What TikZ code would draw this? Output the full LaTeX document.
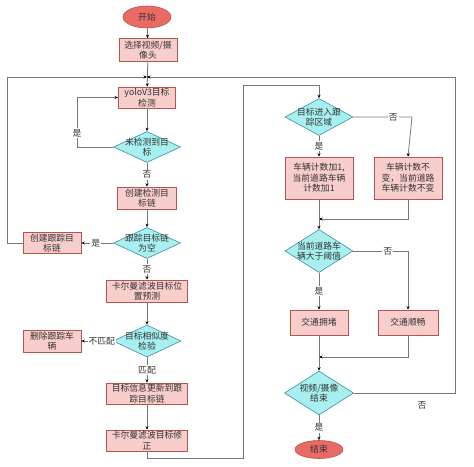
\documentclass[tikz,border=0pt]{standalone}
\usepackage{fontspec}
\setmainfont{Noto Sans CJK SC}
\usetikzlibrary{shapes.geometric,arrows.meta}
\definecolor{boxfill}{HTML}{F8CECC}
\definecolor{boxline}{HTML}{B85450}
\definecolor{dfill}{HTML}{A8F0F0}
\definecolor{dline}{HTML}{3E8E9E}
\definecolor{efill}{HTML}{EA6B66}
\definecolor{lncol}{HTML}{777777}
\begin{document}
\begin{tikzpicture}[x=1pt,y=-1pt,
  every node/.style={font=\fontsize{8.8}{10.6}\selectfont, text=black!80},
  box/.style={draw=boxline, fill=boxfill, line width=0.6pt, inner sep=0pt, align=center},
  dia/.style={diamond, draw=dline, fill=dfill, line width=0.6pt, inner sep=0pt},
  dtext/.style={align=center, inner sep=0pt},
  term/.style={ellipse, draw=boxline, fill=efill, line width=0.6pt, inner sep=0pt},
  ln/.style={draw=lncol, line width=0.8pt},
  arr/.style={ln, -{Stealth[length=3.5pt,width=3pt,black]}},
  lab/.style={fill=white, inner sep=1pt}
]
\useasboundingbox (0,0) rectangle (474,466);
% left column
\node[term, minimum width=48, minimum height=22] (start) at (147,17) {开始};
\node[box, minimum width=58, minimum height=23] (sel) at (148,50) {选择视频/摄\\像头};
\node[box, minimum width=57, minimum height=21] (yolo) at (147,97.5) {yoloV3目标\\检测};
\node[dia, minimum width=67, minimum height=31, label={[dtext]center:{未检测到目\\标}}] (d1) at (147,147) {};
\node[box, minimum width=59, minimum height=22] (det) at (147,198) {创建检测目\\标链};
\node[dia, minimum width=67, minimum height=31, label={[dtext]center:{跟踪目标链\\为空}}] (d2) at (147,243) {};
\node[box, minimum width=58, minimum height=21] (trk) at (52,243) {创建跟踪目\\标链};
\node[box, minimum width=81, minimum height=22] (kal1) at (147,291) {卡尔曼滤波目标位\\置预测};
\node[dia, minimum width=68, minimum height=32, label={[dtext]center:{目标相似度\\检验}}] (d3) at (147,341) {};
\node[box, minimum width=58, minimum height=22] (del) at (52,341) {删除跟踪车\\辆};
\node[box, minimum width=81, minimum height=21] (upd) at (147,393.5) {目标信息更新到跟\\踪目标链};
\node[box, minimum width=81, minimum height=21] (kal2) at (147,440.5) {卡尔曼滤波目标修\\正};
% right column
\node[dia, minimum width=68, minimum height=37, label={[dtext]center:{目标进入跟\\踪区域}}] (d4) at (319,117) {};
\node[box, minimum width=68, minimum height=42] (c1) at (319,178) {车辆计数加1,\\当前道路车辆\\计数加1};
\node[box, minimum width=68, minimum height=42] (c2) at (408,178) {车辆计数不\\变，当前道路\\车辆计数不变};
\node[dia, minimum width=68, minimum height=43, label={[dtext]center:{当前道路车\\辆大于阈值}}] (d5) at (319,251) {};
\node[box, minimum width=58, minimum height=25] (jam) at (319,322.5) {交通拥堵};
\node[box, minimum width=60, minimum height=25] (smo) at (408,322.5) {交通顺畅};
\node[dia, minimum width=69, minimum height=44, label={[dtext]center:{视频/摄像\\结束}}] (d6) at (319,393) {};
\node[term, minimum width=48, minimum height=18] (end) at (319,449.5) {结束};
% junction coordinates
\coordinate (j) at (147,77);
\coordinate (jl) at (7,77);
\coordinate (jr) at (455,77);
\coordinate (m1) at (319,219);
\coordinate (m2) at (319,357);
\coordinate (k1) at (147,458);
\coordinate (k2) at (243,458);
\coordinate (k3) at (243,85);
\coordinate (k4) at (319,85);
% connectors left
\draw[arr] (start) -- (sel);
\draw[arr] (sel) -- (yolo);
\draw[arr] (yolo) -- (d1);
\draw[arr] (d1.west) -- (77,147) |- (yolo.west);
\node[lab] (l1) at (77,133) {是};
\draw[arr] (d1) -- node[lab] (l2) {否} (det);
\draw[arr] (det) -- (d2);
\draw[arr] (d2.west) -- node[lab, pos=0.55] (l3) {是} (trk.east);
\draw[arr] (trk.west) -- (7,243) -- (jl) -- (j);
\draw[arr] (d2) -- node[lab] (l4) {否} (kal1);
\draw[arr] (kal1) -- (d3);
\draw[arr] (d3.west) -- node[lab, pos=0.35] (l5) {不匹配} (del.east);
\draw[arr] (d3) -- node[lab] (l6) {匹配} (upd);
\draw[arr] (upd) -- (kal2);
\draw[arr] (kal2.south) -- (k1) -- (k2) -- (k3) -- (k4) -- (d4.north);
% connectors right
\draw[arr] (d4.east) -- node[lab, pos=0.68] (l7) {否} (412,117) -- (c2.north);
\draw[arr] (d4) -- node[lab] (l8) {是} (c1);
\draw[ln] (c1.south) -- (m1);
\draw[arr] (c2.south) |- (m1);
\draw[arr] (m1) -- (d5.north);
\draw[arr] (d5.east) -- node[lab, pos=0.63] (l9) {否} (408,251) -- (smo.north);
\draw[arr] (d5) -- node[lab] (l10) {是} (jam);
\draw[ln] (jam.south) -- (m2);
\draw[arr] (smo.south) |- (m2);
\draw[arr] (m2) -- (d6.north);
\draw[arr] (d6.east) -- (455,393) -- (jr) -- (j);
\node (l11) at (422,405) {否};
\draw[arr] (d6) -- node[lab] (l12) {是} (end);
\end{tikzpicture}
\end{document}
